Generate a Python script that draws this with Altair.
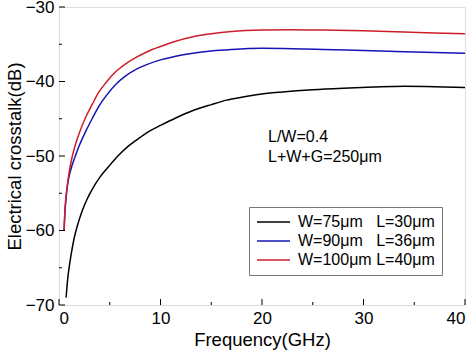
import altair as alt
import pandas as pd

# ---- data ----
series_labels = [
    "W=75\u03bcm\u00a0\u00a0\u00a0L=30\u03bcm",
    "W=90\u03bcm\u00a0\u00a0\u00a0L=36\u03bcm",
    "W=100\u03bcm L=40\u03bcm",
]
series_colors = ["#000000", "#1414b4", "#cc1e2a"]

black_x = [0.7, 0.8, 0.9, 1.08, 1.3, 1.5, 1.8, 2.3, 2.8, 3.3, 4.0, 4.9, 5.8, 6.8, 8.0, 9.0,
           10.0, 11.5, 13.2, 15, 16.5, 18, 19.8, 22, 25, 28, 31, 34, 37, 40]
black_y = [-69.0, -67.3, -66.0, -64.2, -62.4, -61.0, -59.4, -57.3, -55.7, -54.4, -52.9, -51.4,
           -50.0, -48.7, -47.5, -46.6, -45.9, -44.9, -43.9, -43.1, -42.5, -42.1, -41.7, -41.4,
           -41.1, -40.9, -40.75, -40.65, -40.7, -40.8]

blue_x = [0.5, 0.6, 0.7, 0.85, 1.0, 1.3, 1.64, 2.0, 2.63, 3.3, 3.94, 4.6, 5.58, 6.5, 7.55,
          8.7, 10, 11.5, 13.2, 15, 17, 20, 23, 26, 30, 34, 37, 40]
blue_y = [-60.0, -57.2, -55.6, -53.8, -52.7, -51.2, -49.9, -48.6, -46.7, -44.9, -43.3, -42.0,
          -40.4, -39.3, -38.4, -37.7, -37.1, -36.6, -36.2, -35.9, -35.7, -35.55, -35.6, -35.7,
          -35.85, -36.0, -36.1, -36.2]

red_x = [0.5, 0.6, 0.7, 0.85, 1.0, 1.3, 1.64, 2.0, 2.63, 3.3, 3.94, 4.6, 5.58, 6.5, 7.55,
         8.7, 10, 11.5, 13.2, 15, 17, 20, 23, 26, 30, 34, 37, 40]
red_y = [-60.0, -57.0, -55.3, -53.6, -52.2, -50.1, -48.4, -46.9, -44.8, -43.0, -41.4, -40.2,
         -38.7, -37.7, -36.8, -36.0, -35.3, -34.6, -34.0, -33.6, -33.3, -33.1, -33.05, -33.1,
         -33.2, -33.35, -33.5, -33.6]

x_major = [0, 10, 20, 30, 40]
x_minor = [5, 15, 25, 35]
y_major = [-70, -60, -50, -40, -30]
y_minor = [-65, -55, -45, -35]

annot_lines = ["L/W=0.4", "L+W+G=250\u03bcm"]

x_title = "Frequency(GHz)"
y_title = "Electrical crosstalk(dB)"

FONT = "Liberation Sans"
W, H = 406, 298

frames = []
for lab, xs, ys in zip(series_labels, [black_x, blue_x, red_x], [black_y, blue_y, red_y]):
    frames.append(pd.DataFrame({"x": xs, "y": ys, "series": lab}))
df = pd.concat(frames, ignore_index=True)

xscale = alt.Scale(domain=[0, 40], nice=False, zero=False)
yscale = alt.Scale(domain=[-70, -30], nice=False, zero=False)

xaxis = alt.Axis(values=x_major, ticks=False, domain=False, grid=False,
                 labelFontSize=17, labelPadding=5, titleFontSize=18.5,
                 titleFontWeight="normal", titlePadding=4, labelFont=FONT,
                 titleFont=FONT, labelColor="black", titleColor="black")
yaxis = alt.Axis(values=y_major, ticks=False, domain=False, grid=False,
                 labelFontSize=17, labelPadding=5, titleFontSize=18.5,
                 titleFontWeight="normal", titlePadding=1, labelFont=FONT,
                 titleFont=FONT, labelColor="black", titleColor="black")

lines = alt.Chart(df).mark_line(strokeWidth=1.5, interpolate="monotone", clip=True).encode(
    x=alt.X("x:Q", scale=xscale, title=x_title, axis=xaxis),
    y=alt.Y("y:Q", scale=yscale, title=y_title, axis=yaxis),
    color=alt.Color("series:N",
                    scale=alt.Scale(domain=series_labels, range=series_colors),
                    sort=series_labels,
                    legend=alt.Legend(title=None, orient="none", legendX=190, legendY=200,
                                      symbolType="stroke", symbolSize=1089,
                                      symbolStrokeWidth=1.5, labelFontSize=16,
                                      labelFont=FONT, labelColor="black", labelOffset=7,
                                      clipHeight=16, rowPadding=3, padding=7,
                                      strokeColor="#777777",
                                      fillColor="white", labelLimit=300)),
)

def xticks(vals, length):
    return alt.Chart(pd.DataFrame({"x": vals})).mark_rule(color="black", strokeWidth=1).encode(
        x=alt.X("x:Q", scale=xscale, title=x_title, axis=xaxis),
        y=alt.value(H), y2=alt.value(H - length))

def yticks(vals, length):
    return alt.Chart(pd.DataFrame({"y": vals})).mark_rule(color="black", strokeWidth=1).encode(
        y=alt.Y("y:Q", scale=yscale, title=y_title, axis=yaxis),
        x=alt.value(0), x2=alt.value(length))

one = pd.DataFrame({"k": [0]})
annots = [
    alt.Chart(one).mark_text(align="left", baseline="middle", fontSize=16, font=FONT,
                             color="black").encode(
        x=alt.value(209), y=alt.value(yy), text=alt.value(t))
    for t, yy in zip(annot_lines, [130, 150])
]

chart = alt.layer(
    lines, xticks(x_major, 6), xticks(x_minor, 3), yticks(y_major, 6), yticks(y_minor, 3),
    *annots
).properties(
    width=W, height=H,
    autosize=alt.AutoSizeParams(type="none"),
    padding={"left": 59, "top": 7, "right": 9, "bottom": 48},
).configure_view(stroke="black", strokeWidth=1.2).configure(background="white")

chart.save("out.html", embed_options={"renderer": "svg", "actions": False})
